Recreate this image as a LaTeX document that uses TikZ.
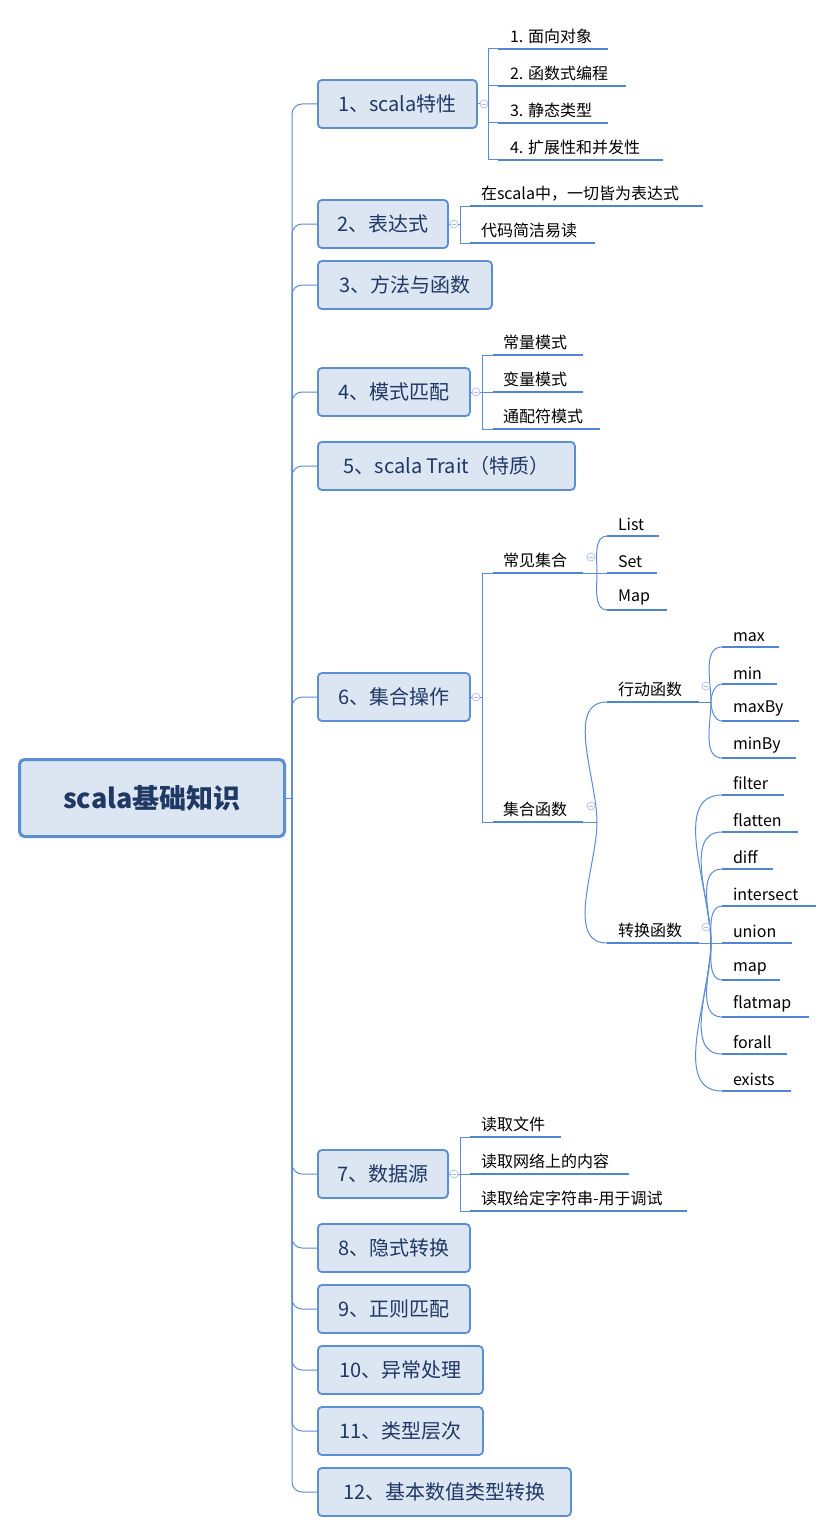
\documentclass[tikz,border=0pt]{standalone}
\usepackage{fontspec}
\setmainfont{Noto Sans CJK SC}
\begin{document}
\begin{tikzpicture}[x=1pt,y=-1pt,
  conn/.style={draw=linec,line width=1pt},
  uline/.style={draw=ulc,line width=2.6pt},
  box/.style={draw=boxb,fill=boxf,line width=1.8pt,rounded corners=4pt,minimum height=48pt,anchor=west,inner sep=0pt,font=\fontsize{20pt}{22pt}\selectfont,text=txtc},
  leaf/.style={inner sep=0pt,inner ysep=5pt,outer sep=0pt,anchor=south west,font=\fontsize{16pt}{18pt}\selectfont},
  circ/.style={circle,draw=circc,fill=white,line width=0.7pt,minimum size=8pt,inner sep=0pt,
    path picture={\draw[circc,line width=0.6pt] ([xshift=-2pt]path picture bounding box.center) -- ([xshift=2pt]path picture bounding box.center);}}]
\definecolor{linec}{HTML}{5B8BD0}
\definecolor{ulc}{HTML}{4F86CF}
\definecolor{boxb}{HTML}{5B8FD1}
\definecolor{boxf}{HTML}{DCE6F2}
\definecolor{txtc}{HTML}{1F3864}
\definecolor{circc}{HTML}{A9BCE3}
\newcommand\leaf[6][12]{\node[leaf] (#2) at (#3,#4) {\makebox[#5pt][l]{\hspace{#1pt}#6}}; \draw[uline] (#2.south west) -- (#2.south east);}
\newcommand\cu[2]{\draw[conn] (#1) to[out=90,in=180,looseness=0.9] (#2.south west);}
\newcommand\cd[2]{\draw[conn] (#1) to[out=-90,in=180,looseness=0.9] (#2.south west);}
\newcommand\cs[2]{\draw[conn] (#1) -- (#2.south west);}
\useasboundingbox (0,0) rectangle (834,1533);
\fill[white] (0,0) rectangle (834,1533);

% trunk
\node[draw=boxb,fill=boxf,line width=3pt,rounded corners=5pt,minimum width=265pt,minimum height=77pt,anchor=west,text=txtc,font=\fontsize{27pt}{30pt}\selectfont\bfseries] (root) at (18,798) {scala基础知识};
\coordinate (t0) at (292,798);
\draw[conn] (root.east) -- (t0);
\node[box,minimum width=159pt] (b1) at (317,104) {1、scala特性};
\node[box,minimum width=130pt] (b2) at (317,224) {2、表达式};
\node[box,minimum width=174pt] (b3) at (317,285) {3、方法与函数};
\node[box,minimum width=152pt] (b4) at (317,392) {4、模式匹配};
\node[box,minimum width=257pt] (b5) at (317,466) {5、scala Trait（特质）};
\node[box,minimum width=152pt] (b6) at (317,697) {6、集合操作};
\node[box,minimum width=130pt] (b7) at (317,1174) {7、数据源};
\node[box,minimum width=152pt] (b8) at (317,1248) {8、隐式转换};
\node[box,minimum width=152pt] (b9) at (317,1309) {9、正则匹配};
\node[box,minimum width=165pt] (b10) at (317,1370) {10、异常处理};
\node[box,minimum width=165pt] (b11) at (317,1431) {11、类型层次};
\node[box,minimum width=253pt] (b12) at (317,1492) {12、基本数值类型转换};
\foreach \b in {b1,b2,b3,b4,b5,b6,b7,b8,b9,b10,b11,b12}
  \draw[conn,rounded corners=10pt] (t0) |- (\b.west);

% 1
\coordinate (v1) at (488,104);
\draw[conn] (b1.east) -- (v1);
\leaf{l11}{498}{49}{110}{1. 面向对象}
\leaf{l12}{498}{86}{128}{2. 函数式编程}
\leaf{l13}{498}{123}{110}{3. 静态类型}
\leaf{l14}{498}{160}{165}{4. 扩展性和并发性}
\foreach \l in {l11,l12,l13,l14} \draw[conn] (v1) |- (\l.south west);
\node[circ] at (484,104) {};

% 2
\coordinate (v2) at (460,224);
\draw[conn] (b2.east) -- (v2);
\leaf[11]{l21}{470}{206}{233}{在scala中，一切皆为表达式}
\leaf[11]{l22}{470}{243}{125}{代码简洁易读}
\foreach \l in {l21,l22} \draw[conn] (v2) |- (\l.south west);
\node[circ] at (454,224) {};

% 4
\coordinate (v4) at (482,392);
\draw[conn] (b4.east) -- (v4);
\leaf[10]{l41}{493}{355}{90}{常量模式}
\leaf[10]{l42}{493}{392}{90}{变量模式}
\leaf[10]{l43}{493}{429}{107}{通配符模式}
\foreach \l in {l41,l42,l43} \draw[conn] (v4) |- (\l.south west);
\node[circ] at (476,392) {};

% 6
\coordinate (v6) at (482,697);
\draw[conn] (b6.east) -- (v6);
\leaf[10]{l61}{493}{573}{90}{常见集合}
\leaf[10]{l62}{493}{822}{90}{集合函数}
\foreach \l in {l61,l62} \draw[conn] (v6) |- (\l.south west);
\node[circ] at (476,697) {};

\coordinate (p61) at (597,573);
\draw[conn] (l61.south east) -- (p61);
\leaf[11]{s1}{607}{536}{52}{List}
\leaf[11]{s2}{607}{573}{50}{Set}
\leaf[11]{s3}{607}{610}{60}{Map}
\cu{p61}{s1} \cs{p61}{s2} \cd{p61}{s3}
\node[circ] at (591,557) {};

\coordinate (p62) at (597,822);
\draw[conn] (l62.south east) -- (p62);
\leaf[11]{f1}{607}{702}{92}{行动函数}
\leaf[11]{f2}{607}{943}{92}{转换函数}
\cu{p62}{f1} \cd{p62}{f2}
\node[circ] at (591,806) {};

\coordinate (p71) at (711,702);
\draw[conn] (f1.south east) -- (p71);
\leaf[11]{a1}{722}{647}{57}{max}
\leaf[11]{a2}{722}{684}{55}{min}
\leaf[11]{a3}{722}{721}{77}{maxBy}
\leaf[11]{a4}{722}{758}{74}{minBy}
\cu{p71}{a1} \cu{p71}{a2} \cd{p71}{a3} \cd{p71}{a4}
\node[circ] at (706,686) {};

\coordinate (p72) at (711,943);
\draw[conn] (f2.south east) -- (p72);
\leaf[11]{c1}{722}{795}{62}{filter}
\leaf[11]{c2}{722}{832}{76}{flatten}
\leaf[11]{c3}{722}{869}{51}{diff}
\leaf[11]{c4}{722}{906}{94}{intersect}
\leaf[11]{c5}{722}{943}{70}{union}
\leaf[11]{c6}{722}{980}{58}{map}
\leaf[11]{c7}{722}{1017}{87}{flatmap}
\leaf[11]{c8}{722}{1054}{65}{forall}
\leaf[11]{c9}{722}{1091}{69}{exists}
\cu{p72}{c1} \cu{p72}{c2} \cu{p72}{c3} \cu{p72}{c4} \cs{p72}{c5}
\cd{p72}{c6} \cd{p72}{c7} \cd{p72}{c8} \cd{p72}{c9}
\node[circ] at (706,927) {};

% 7
\coordinate (v7) at (460,1174);
\draw[conn] (b7.east) -- (v7);
\leaf[11]{l71}{470}{1137}{91}{读取文件}
\leaf[11]{l72}{470}{1174}{159}{读取网络上的内容}
\leaf[11]{l73}{470}{1211}{217}{读取给定字符串-用于调试}
\foreach \l in {l71,l72,l73} \draw[conn] (v7) |- (\l.south west);
\node[circ] at (454,1174) {};
\end{tikzpicture}
\end{document}
